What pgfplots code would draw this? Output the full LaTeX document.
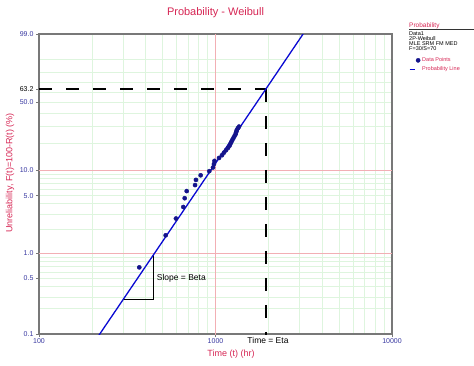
\documentclass[border=0pt]{standalone}
\usepackage{fontspec}
\setmainfont{Liberation Sans}
\usepackage{pgfplots}
\pgfplotsset{compat=1.18}
\definecolor{probred}{RGB}{214,38,84}
\definecolor{tickblue}{RGB}{55,55,160}
\definecolor{lineblue}{RGB}{10,10,210}
\definecolor{markblue}{RGB}{20,20,140}
\definecolor{gridgreen}{RGB}{222,245,222}
\definecolor{gridred}{RGB}{242,175,180}
\definecolor{framegray}{RGB}{120,120,120}
\pgfplotstableread{
t F
370 0.697
522 1.693
597 2.689
657 3.685
669 4.681
687 5.677
766 6.673
775 7.669
824 8.665
922 9.661
968 10.657
980 11.653
987 12.649
1047 13.645
1088 14.641
1117 15.637
1147 16.633
1177 17.629
1201 18.625
1216 19.622
1232 20.618
1248 21.614
1265 22.610
1281 23.606
1298 24.602
1306 25.598
1315 26.594
1324 27.590
1341 28.586
1359 29.582
}\datapoints
\begin{document}
\begin{tikzpicture}[x=1pt,y=1pt]
\path[use as bounding box] (0,0) rectangle (474,365);
\begin{axis}[
  at={(39pt,31pt)}, anchor=south west,
  scale only axis, width=353pt, height=300pt,
  xmode=log, log basis x=10,
  xmin=100, xmax=10000,
  ymin=0.1, ymax=99,
  y coord trafo/.code={\pgfmathparse{ln(-ln(1-#1/100))}},
  axis line style={framegray, line width=1.3pt},
  xtick={100,1000,10000},
  xticklabels={100,1000,10000},
  ytick={0.1,0.5,1,5,10,50,63.2,99},
  yticklabels={0.1,0.5,1.0,5.0,10.0,50.0,\textcolor{black}{63.2},99.0},
  minor xtick={200,300,400,500,600,700,800,900,2000,3000,4000,5000,6000,7000,8000,9000},
  minor ytick={0.2,0.3,0.4,0.5,0.6,0.7,0.8,0.9,2,3,4,5,6,7,8,9,20,30,40,50,60,70,80,90},
  xminorgrids, yminorgrids,
  xmajorgrids=false, ymajorgrids=false,
  minor grid style={gridgreen, line width=0.45pt},
  major grid style={gridred, line width=0.6pt},
  extra y ticks={1,10}, extra y tick labels={},
  extra y tick style={ymajorgrids=true},
  minor tick length=0pt,
  major tick length=3pt,
  tick align=outside, tick pos=left,
  tick style={framegray, line width=0.6pt},
  ticklabel style={font=\fontsize{7}{8}\selectfont, text=tickblue},
  /pgf/number format/assume math mode=true,
  xticklabel style={yshift=1.5pt},
  yticklabel style={xshift=1pt},
  clip=true,
  legend style={at={(1.048,0.928)}, anchor=north west, draw=none, fill=none,
    font=\fontsize{5.5}{5}\selectfont, inner sep=0pt, outer sep=0pt,
    row sep=-0.6pt, legend cell align=left,
    /tikz/every even column/.append style={column sep=1pt}},
]
% red grid line at 1000
\addplot[gridred, line width=0.6pt, forget plot]
  coordinates {(1000,0.1) (1000,99)};
% dashed eta lines
\addplot[black, line width=1.6pt, dash pattern=on 13pt off 14pt, forget plot]
  coordinates {(100,63.2) (1932,63.2)};
\addplot[black, line width=1.6pt, dash pattern=on 13pt off 14pt, forget plot]
  coordinates {(1932,63.2) (1932,0.1)};
% slope triangle
\addplot[black, line width=0.9pt, forget plot]
  coordinates {(300,0.284) (444,0.284) (444,0.971)};
% data points
\addplot[only marks, mark=*, mark size=2.1pt, markblue, mark options={fill=markblue, draw=markblue}]
  table[x=t, y=F] {\datapoints};
\addlegendentry{\textcolor{probred}{Data Points}}
% probability line
\addplot[lineblue, line width=1.3pt,
  legend image code/.code={\draw[draw=lineblue, line width=1.3pt] (0pt,0pt) -- (5.5pt,0pt);}]
  coordinates {(215.6,0.1) (1932,63.2) (3137,99)};
\addlegendentry{\textcolor{probred}{Probability Line}}
\node[anchor=west, font=\fontsize{8.5}{9}\selectfont, text=black, inner sep=0pt]
  at (axis cs:464,0.5) {Slope = Beta};
\end{axis}
% title and labels
\node[font=\fontsize{11}{12}\selectfont, text=probred] at (215.5,352) {Probability - Weibull};
\node[font=\fontsize{9}{10}\selectfont, text=probred, rotate=90] at (10,192) {Unreliability, F(t)=100-R(t) (\%)};
\node[font=\fontsize{9}{10}\selectfont, text=probred] at (231,11) {Time (t) (hr)};
\node[font=\fontsize{8.5}{9}\selectfont, text=black] at (268,25) {Time = Eta};
% legend header
\node[anchor=west, font=\fontsize{6.5}{7}\selectfont, text=probred, inner sep=0pt] at (409,339.5) {Probability};
\draw[black!80, line width=0.6pt] (409,335.7) -- (474,335.7);
\node[anchor=north west, align=left, font=\fontsize{5.5}{5}\selectfont, text=black, inner sep=0pt] at (409,333.5)
  {Data1\\2P-Weibull\\MLE SRM FM MED\\F=30/S=70};
\end{tikzpicture}
\end{document}
